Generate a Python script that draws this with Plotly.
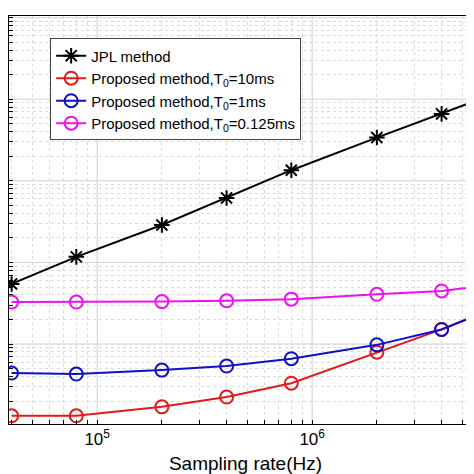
import plotly.graph_objects as go

rates = [4e4, 8e4, 2e5, 4e5, 8e5, 2e6, 4e6, 8e6]
jpl = [5.45, 11.7, 28.8, 61.7, 135, 339, 661, 1320]
t10 = [0.132, 0.132, 0.170, 0.224, 0.331, 0.794, 1.51, 3.16]
t1 = [0.441, 0.429, 0.479, 0.537, 0.661, 0.977, 1.51, 3.16]
t0125 = [3.27, 3.27, 3.31, 3.39, 3.55, 4.07, 4.47, 5.62]

x_decades = [1e4, 1e5, 1e6, 1e7]
y_decades = [0.1, 1, 10, 100, 1000, 10000]
x_ticks = [m * d for d in x_decades for m in range(1, 10)]
y_ticks = [m * d for d in y_decades for m in range(1, 10)]

fig = go.Figure()
series = [
    ("JPL method", jpl, "black", "asterisk-open"),
    ("Proposed method,T<sub>0</sub>=10ms", t10, "#e31a1c", "circle-open"),
    ("Proposed method,T<sub>0</sub>=1ms", t1, "#1010c8", "circle-open"),
    ("Proposed method,T<sub>0</sub>=0.125ms", t0125, "#ee10ee", "circle-open"),
]
for name, ys, col, sym in series:
    fig.add_trace(go.Scatter(x=rates, y=ys, name=name, mode="lines+markers",
                             line=dict(color=col, width=2),
                             marker=dict(symbol=sym, size=13, color=col, line=dict(width=2, color=col))))

# solid decade grid lines
for d in x_decades:
    fig.add_vline(x=d, line=dict(color="#d0d0d0", width=1), layer="below")
for d in y_decades:
    fig.add_hline(y=d, line=dict(color="#d0d0d0", width=1), layer="below")

fig.update_xaxes(type="log", range=[4.59, 6.79], showline=True, linecolor="black", mirror=True,
                 showgrid=True, gridcolor="#dcdcdc", griddash="dot", ticks="inside", tickcolor="black",
                 ticklen=4, tickvals=x_ticks,
                 ticktext=["10<sup>5</sup>" if v == 1e5 else "10<sup>6</sup>" if v == 1e6 else "" for v in x_ticks],
                 title=dict(text="Sampling rate(Hz)", font=dict(size=19), standoff=8),
                 tickfont=dict(size=17))
fig.update_yaxes(type="log", range=[-0.98, 4.02], showline=True, linecolor="black", mirror=True,
                 showgrid=True, gridcolor="#dcdcdc", griddash="dot", ticks="inside", tickcolor="black",
                 ticklen=4, tickvals=y_ticks, showticklabels=False)
fig.update_layout(width=474, height=474, margin=dict(l=1, r=0, t=8, b=58),
                  plot_bgcolor="white", paper_bgcolor="white",
                  font=dict(family="Arial, Liberation Sans", color="black"),
                  legend=dict(x=0.087, y=0.945, xanchor="left", yanchor="top",
                              bgcolor="white", bordercolor="#444", borderwidth=1,
                              font=dict(size=15), tracegroupgap=0))
fig.write_html("out.html")
